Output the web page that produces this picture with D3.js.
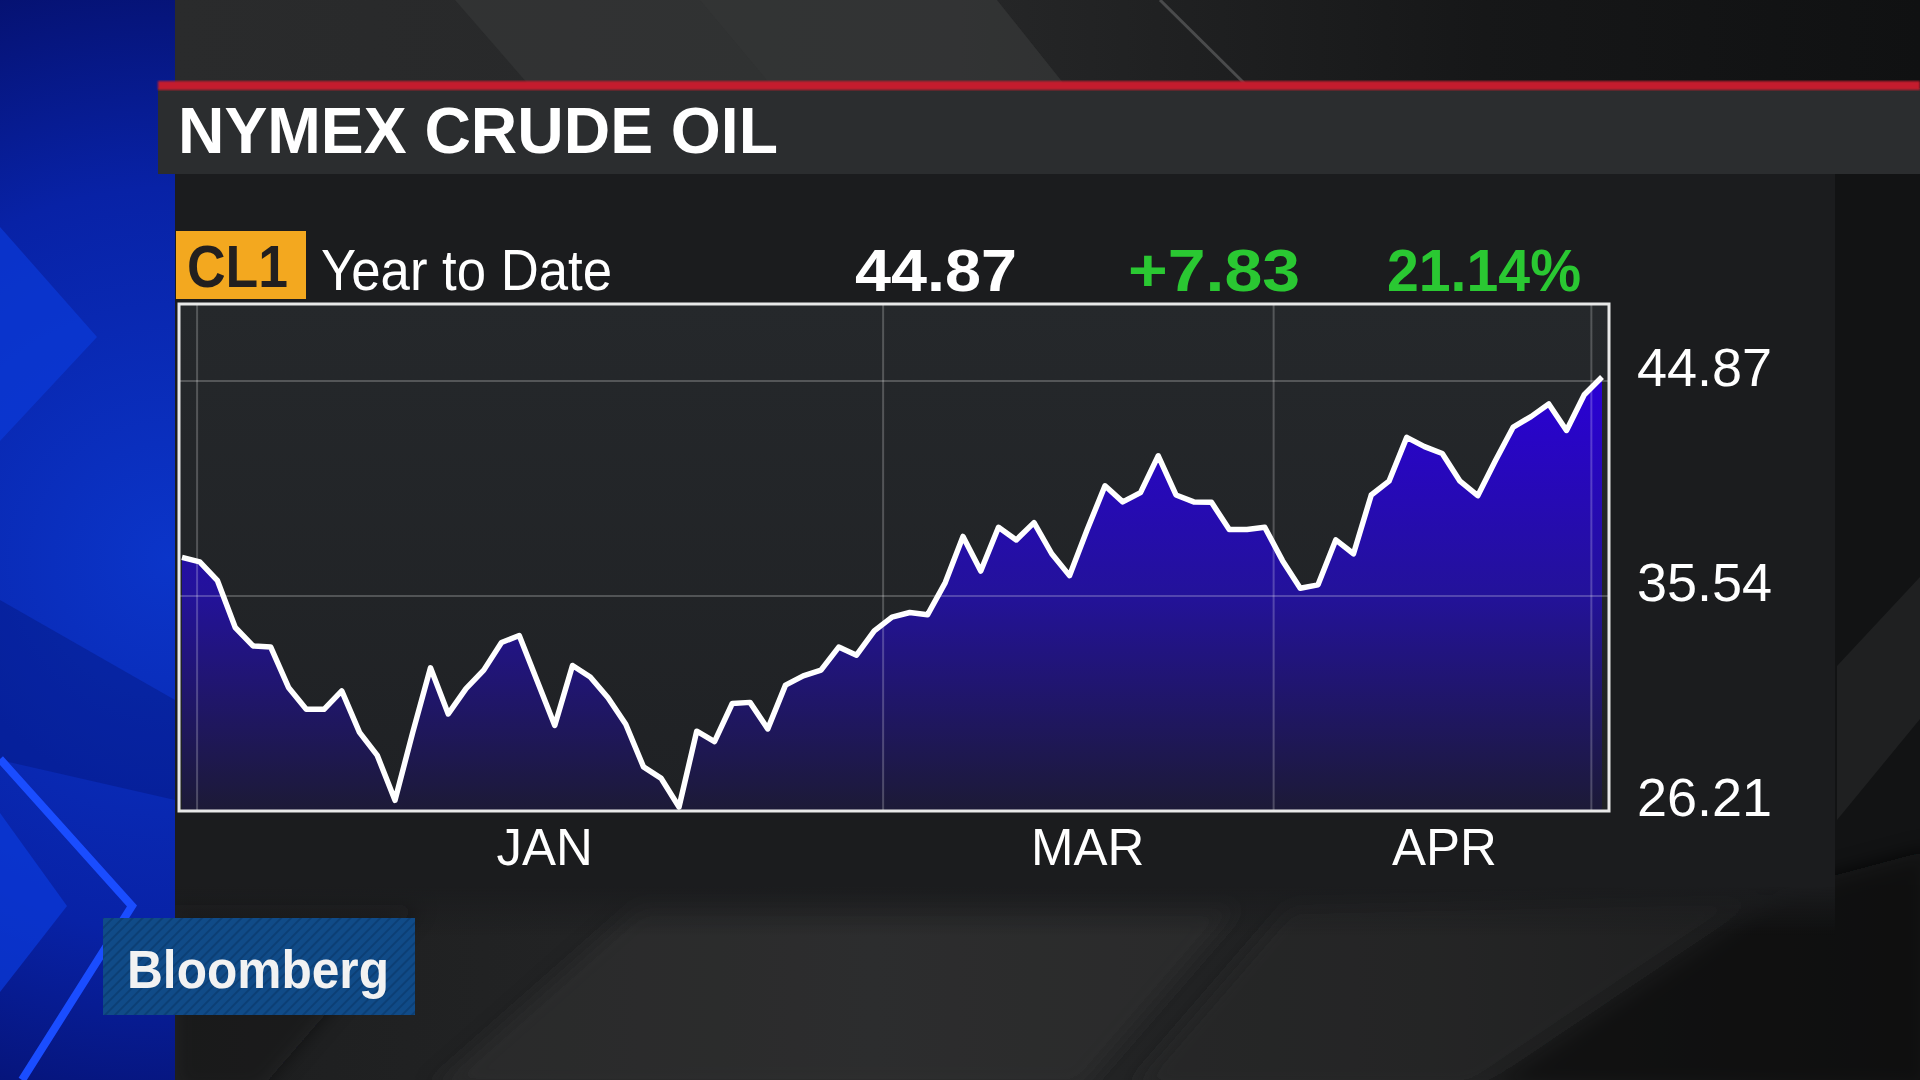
<!DOCTYPE html>
<html>
<head>
<meta charset="utf-8">
<script src="https://cdn.jsdelivr.net/npm/d3@7"></script>
<style>
  html, body { margin: 0; padding: 0; background: #161718; }
  svg { display: block; }
  text { font-family: "Liberation Sans", Arial, Helvetica, sans-serif; }
</style>
</head>
<body>
<svg id="chart" width="1920" height="1080"></svg>
<script>
// ---------------- DATA ----------------
const title = "NYMEX CRUDE OIL";
const ticker = "CL1";
const period = "Year to Date";
const prevClose = 37.04; // close before first plotted day (Dec 31)
const dates = [
  "Dec 31","Jan 4","Jan 5","Jan 6","Jan 7","Jan 8","Jan 11","Jan 12","Jan 13","Jan 14","Jan 15",
  "Jan 19","Jan 20","Jan 21","Jan 22","Jan 25","Jan 26","Jan 27","Jan 28","Jan 29",
  "Feb 1","Feb 2","Feb 3","Feb 4","Feb 5","Feb 8","Feb 9","Feb 10","Feb 11","Feb 12",
  "Feb 16","Feb 17","Feb 18","Feb 19","Feb 22","Feb 23","Feb 24","Feb 25","Feb 26","Feb 29",
  "Mar 1","Mar 2","Mar 3","Mar 4","Mar 7","Mar 8","Mar 9","Mar 10","Mar 11","Mar 14",
  "Mar 15","Mar 16","Mar 17","Mar 18","Mar 21","Mar 22","Mar 23","Mar 24","Mar 28","Mar 29",
  "Mar 30","Mar 31","Apr 1","Apr 4","Apr 5","Apr 6","Apr 7","Apr 8","Apr 11","Apr 12",
  "Apr 13","Apr 14","Apr 15","Apr 18","Apr 19","Apr 20","Apr 21","Apr 22","Apr 25","Apr 26","Apr 27"
];
const prices = [
  37.04, 36.85, 36.03, 34.00, 33.20, 33.15, 31.40, 30.45, 30.45, 31.25, 29.45,
  28.45, 26.50, 29.45, 32.25, 30.25, 31.35, 32.15, 33.35, 33.65,
  31.70, 29.75, 32.35, 31.85, 30.95, 29.80, 27.95, 27.45, 26.21, 29.50,
  29.05, 30.70, 30.75, 29.60, 31.50, 31.90, 32.15, 33.15, 32.80, 33.85,
  34.45, 34.65, 34.55, 35.95, 37.95, 36.45, 38.35, 37.80, 38.55, 37.20,
  36.25, 38.25, 40.15, 39.45, 39.85, 41.45, 39.75, 39.45, 39.43, 38.25,
  38.25, 38.35, 36.90, 35.70, 35.85, 37.80, 37.20, 39.75, 40.35, 42.25,
  41.85, 41.55, 40.35, 39.72, 41.25, 42.70, 43.15, 43.70, 42.55, 44.10, 44.87
];
// month separators (in trading-day index units) and month labels
const monthGridAt = [0.85, 39.5, 61.5, 79.4];
const monthLabels = ["JAN", "MAR", "APR"];
const monthLabelAt = [20.4, 51.0, 71.1];

// ---------------- DRAW ----------------
const svg = d3.select("#chart");
const defs = svg.append("defs");

function linGrad(id, x1, y1, x2, y2, stops) {
  const g = defs.append("linearGradient").attr("id", id).attr("gradientUnits", "userSpaceOnUse")
    .attr("x1", x1).attr("y1", y1).attr("x2", x2).attr("y2", y2);
  stops.forEach(s => g.append("stop").attr("offset", s[0]).attr("stop-color", s[1])
    .attr("stop-opacity", s[2] === undefined ? 1 : s[2]));
}
linGrad("topBg", 175, 0, 1920, 0, [[0, "#2a2b2c"], [0.45, "#262728"], [0.75, "#161718"], [1, "#101112"]]);
linGrad("botBg", 175, 0, 1920, 0, [[0, "#1d1e1f"], [0.4, "#262728"], [0.72, "#1f2021"], [1, "#101112"]]);
linGrad("botFadeV", 0, 885, 0, 935, [[0, "#1b1c1e", 1], [1, "#1b1c1e", 0]]);
linGrad("plotBg", 0, 304, 0, 811, [[0, "#25282b"], [1, "#1f2124"]]);
linGrad("areaFill", 0, 377, 0, 811, [[0, "#2a00d6"], [0.5, "#23129a"], [1, "#1c1a36"]]);
linGrad("band", 0, 890, 0, 1080, [[0, "#ffffff", 0.0], [0.3, "#ffffff", 0.05], [1, "#ffffff", 0.03]]);
const rg = defs.append("radialGradient").attr("id", "blueBg")
  .attr("gradientUnits", "userSpaceOnUse").attr("cx", 170).attr("cy", 560).attr("r", 620);
rg.append("stop").attr("offset", 0).attr("stop-color", "#0b35c9");
rg.append("stop").attr("offset", 0.6).attr("stop-color", "#0822a6");
rg.append("stop").attr("offset", 1).attr("stop-color", "#050f6a");
const pat = defs.append("pattern").attr("id", "stripes").attr("patternUnits", "userSpaceOnUse")
  .attr("width", 7).attr("height", 7).attr("patternTransform", "rotate(45)");
pat.append("rect").attr("width", 7).attr("height", 7).attr("fill", "#104b88");
pat.append("rect").attr("width", 2).attr("height", 7).attr("fill", "#0c3f75");
defs.append("filter").attr("id", "soft").append("feGaussianBlur").attr("stdDeviation", 1.2);
defs.append("filter").attr("id", "blurBig").attr("x", "-20%").attr("y", "-20%").attr("width", "140%").attr("height", "140%")
  .append("feGaussianBlur").attr("stdDeviation", 10);
defs.append("clipPath").attr("id", "plotClip").append("rect")
  .attr("x", 179).attr("y", 304).attr("width", 1430).attr("height", 507);

// ---------- background ----------
svg.append("rect").attr("width", 1920).attr("height", 1080).attr("fill", "#141516");
svg.append("rect").attr("x", 175).attr("y", 0).attr("width", 1745).attr("height", 90).attr("fill", "url(#topBg)");
svg.append("polygon").attr("points", "455,0 997,0 1064,84 528,84").attr("fill", "#3a3b3c").attr("opacity", 0.5);
svg.append("polygon").attr("points", "700,0 997,0 1064,84 770,84").attr("fill", "#3a3b3c").attr("opacity", 0.2);
svg.append("line").attr("x1", 1160).attr("y1", 0).attr("x2", 1245).attr("y2", 84)
  .attr("stroke", "#4a4b4c").attr("stroke-width", 3);
// right strip
svg.append("rect").attr("x", 1835).attr("y", 174).attr("width", 85).attr("height", 906).attr("fill", "#121314");
svg.append("polygon").attr("points", "1837,666 1920,577 1920,719 1837,820").attr("fill", "#1f2021");
// bottom strip
svg.append("rect").attr("x", 175).attr("y", 885).attr("width", 1745).attr("height", 195).attr("fill", "url(#botBg)");
const soft = svg.append("g").attr("filter", "url(#blurBig)");
soft.append("polygon").attr("points", "640,905 1240,905 1080,1090 430,1090").attr("fill", "#303132").attr("opacity", 0.45);
soft.append("polygon").attr("points", "1290,905 1760,895 1470,1090 1130,1090").attr("fill", "#2a2b2c").attr("opacity", 0.5);
soft.append("polygon").attr("points", "1780,890 1930,850 1930,1090 1480,1090").attr("fill", "#0e0f10").attr("opacity", 0.8);
soft.append("polygon").attr("points", "175,905 420,905 260,1090 175,1090").attr("fill", "#111213").attr("opacity", 0.5);

// ---------- blue side panel ----------
svg.append("rect").attr("x", 0).attr("y", 0).attr("width", 175).attr("height", 1080).attr("fill", "url(#blueBg)");
svg.append("polygon").attr("points", "0,227 97,337 0,441").attr("fill", "#0b3ad8").attr("opacity", 0.7);
svg.append("polygon").attr("points", "0,600 175,700 175,800 0,760").attr("fill", "#041070").attr("opacity", 0.35);
svg.append("polygon").attr("points", "0,813 67,906 0,992").attr("fill", "#0b3ad8").attr("opacity", 0.75);
svg.append("polyline").attr("points", "0,759 132,906 22,1080")
  .attr("fill", "none").attr("stroke", "#1a4dff").attr("stroke-width", 8);

// ---------- header ----------
svg.append("rect").attr("x", 158).attr("y", 88).attr("width", 1762).attr("height", 86).attr("fill", "#2b2d2f");
svg.append("rect").attr("x", 158).attr("y", 81).attr("width", 1762).attr("height", 9).attr("fill", "#c41f2d").attr("filter", "url(#soft)");
svg.append("text").attr("x", 178).attr("y", 153).attr("fill", "#ffffff")
  .attr("font-size", 65).attr("font-weight", "bold")
  .attr("textLength", 600).attr("lengthAdjust", "spacingAndGlyphs").text(title);

// ---------- panel ----------
svg.append("rect").attr("x", 175).attr("y", 174).attr("width", 1660).attr("height", 713).attr("fill", "#1b1c1e");
svg.append("rect").attr("x", 175).attr("y", 885).attr("width", 1660).attr("height", 50).attr("fill", "url(#botFadeV)");

// ticker box + stats
svg.append("rect").attr("x", 176).attr("y", 231).attr("width", 130).attr("height", 68).attr("fill", "#f3a81f");
svg.append("text").attr("x", 187).attr("y", 287).attr("fill", "#221f1f")
  .attr("font-size", 59).attr("font-weight", "bold")
  .attr("textLength", 101).attr("lengthAdjust", "spacingAndGlyphs").text(ticker);
svg.append("text").attr("x", 321).attr("y", 290).attr("fill", "#ffffff")
  .attr("font-size", 57)
  .attr("textLength", 291).attr("lengthAdjust", "spacingAndGlyphs").text(period);

const last = prices[prices.length - 1];
const chg = last - prevClose;
const pct = chg / prevClose * 100;
svg.append("text").attr("x", 855).attr("y", 291).attr("fill", "#ffffff")
  .attr("font-size", 59).attr("font-weight", "bold")
  .attr("textLength", 162).attr("lengthAdjust", "spacingAndGlyphs").text(last.toFixed(2));
svg.append("text").attr("x", 1128).attr("y", 291).attr("fill", "#2ac832")
  .attr("font-size", 59).attr("font-weight", "bold")
  .attr("textLength", 172).attr("lengthAdjust", "spacingAndGlyphs")
  .text((chg >= 0 ? "+" : "") + chg.toFixed(2));
svg.append("text").attr("x", 1387).attr("y", 291).attr("fill", "#2ac832")
  .attr("font-size", 59).attr("font-weight", "bold")
  .attr("textLength", 194).attr("lengthAdjust", "spacingAndGlyphs").text(pct.toFixed(2) + "%");

// ---------- chart ----------
const idx = d3.range(prices.length);
const x = d3.scaleLinear().domain([0, prices.length - 1]).range([182, 1602]);
const yMin = d3.min(prices), yMax = d3.max(prices);
const y = d3.scaleLinear().domain([yMin, yMax]).range([811, 381]);
const yTicks = [yMin, (yMin + yMax) / 2, yMax];
const lift = 4; // the series is drawn a few pixels above its grid value in the original

svg.append("rect").attr("x", 179).attr("y", 304).attr("width", 1430).attr("height", 507).attr("fill", "url(#plotBg)");

const plot = svg.append("g").attr("clip-path", "url(#plotClip)");
const area = d3.area().x(i => x(i)).y0(y(yMin) + 20).y1(i => y(prices[i]) - lift);
const line = d3.line().x(i => x(i)).y(i => y(prices[i]) - lift);
plot.append("path").datum(idx).attr("d", area).attr("fill", "url(#areaFill)");

plot.selectAll("line.hgrid").data(yTicks.slice(1)).join("line").attr("class", "hgrid")
  .attr("x1", 179).attr("x2", 1609).attr("y1", d => y(d)).attr("y2", d => y(d))
  .attr("stroke", "#ffffff").attr("stroke-opacity", 0.22).attr("stroke-width", 2);
plot.selectAll("line.vgrid").data(monthGridAt).join("line").attr("class", "vgrid")
  .attr("x1", d => x(d)).attr("x2", d => x(d)).attr("y1", 304).attr("y2", 811)
  .attr("stroke", "#ffffff").attr("stroke-opacity", 0.22).attr("stroke-width", 2);

plot.append("path").datum(idx).attr("d", line).attr("fill", "none")
  .attr("stroke", "#ffffff").attr("stroke-width", 5.5).attr("stroke-linejoin", "round");

svg.append("rect").attr("x", 179).attr("y", 304).attr("width", 1430).attr("height", 507)
  .attr("fill", "none").attr("stroke", "#e8e8e8").attr("stroke-width", 3);

// y axis (right)
const yAxis = svg.append("g").attr("transform", "translate(1637,0)")
  .call(d3.axisRight(y).tickValues(yTicks).tickFormat(d => d.toFixed(2)).tickSize(0).tickPadding(0));
yAxis.select(".domain").remove();
yAxis.selectAll("text").attr("fill", "#ffffff").attr("font-size", 54)
  .attr("font-family", "'Liberation Sans', Arial, sans-serif").attr("dy", "0.08em");

// x axis (month labels)
const xAxis = svg.append("g").attr("transform", "translate(0,811)")
  .call(d3.axisBottom(x).tickValues(monthLabelAt).tickFormat((d, i) => monthLabels[i]).tickSize(0).tickPadding(0));
xAxis.select(".domain").remove();
xAxis.selectAll("text").attr("fill", "#ffffff").attr("font-size", 51)
  .attr("font-family", "'Liberation Sans', Arial, sans-serif").attr("y", 54).attr("dy", 0);

// ---------- Bloomberg logo ----------
svg.append("rect").attr("x", 103).attr("y", 918).attr("width", 312).attr("height", 97).attr("fill", "url(#stripes)");
svg.append("text").attr("x", 127).attr("y", 988).attr("fill", "#f2f2f2")
  .attr("font-size", 53).attr("font-weight", "bold")
  .attr("textLength", 262).attr("lengthAdjust", "spacingAndGlyphs").text("Bloomberg");
</script>
</body>
</html>
